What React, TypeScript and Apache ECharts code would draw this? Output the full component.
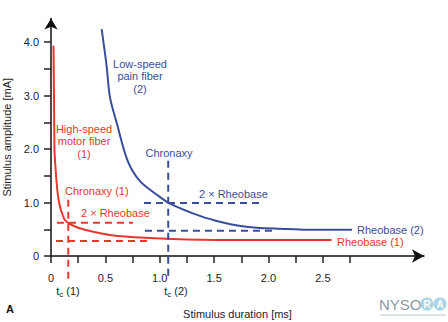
import React, { useEffect, useRef } from 'react';
import * as echarts from 'echarts';

// Strength–duration curves (stimulus duration in ms, amplitude in mA)
const motorDuration = [0.023, 0.028, 0.032, 0.037, 0.045, 0.052, 0.065, 0.083, 0.101, 0.129, 0.19, 0.312, 0.558, 0.864, 1.25, 1.83, 2.58];
const motorAmplitude = [3.93, 2.92, 1.98, 1.79, 1.55, 1.37, 1.12, 0.92, 0.8, 0.67, 0.58, 0.49, 0.39, 0.34, 0.31, 0.3, 0.3];

const painDuration = [0.466, 0.512, 0.542, 0.604, 0.705, 0.818, 0.971, 1.094, 1.369, 1.59, 1.744, 1.893, 2.111, 2.353, 2.767];
const painAmplitude = [4.24, 3.54, 2.97, 2.49, 1.78, 1.4, 1.15, 0.98, 0.75, 0.62, 0.56, 0.53, 0.51, 0.49, 0.49];

// Reference (dashed) lines
const motorTwoRheoSpan = [0.055, 0.754];
const motorTwoRheo = 0.62;
const motorRheoSpan = [0.046, 0.89];
const motorRheo = 0.28;
const motorChronaxy = 0.159;
const motorChronaxySpan = [1.05, -0.47];

const painTwoRheoSpan = [0.855, 1.958];
const painTwoRheo = 0.99;
const painRheoSpan = [0.864, 2.05];
const painRheo = 0.47;
const painChronaxy = 1.078;
const painChronaxySpan = [1.78, -0.43];

// Axis ticks and labels
const xTicks = [0, 0.25, 0.5, 0.75, 1, 1.25, 1.5, 1.75, 2, 2.25, 2.5, 2.75];
const xLabels = [0, 0.5, 1, 1.5, 2, 2.5];
const yTicks = [0, 0.5, 1, 1.5, 2, 2.5, 3, 3.5, 4];
const yLabels = [0, 1, 2, 3, 4];

const RED = '#e5392c';
const BLUE = '#3a4d9b';
const FONT = 'Liberation Sans, Arial, sans-serif';

const zip = (xs: number[], ys: number[]) => xs.map((x, i) => [x, ys[i]]);

export default function App() {
  const ref = useRef<HTMLDivElement>(null);
  useEffect(() => {
    if (!ref.current) return;
    const chart = echarts.init(ref.current, null, { renderer: 'svg' });
    const dashed = (color: string) => ({ color, width: 2, type: [7, 5] as any });
    const txt = (text: string, x: number, y: number, color: string, align = 'center') => ({
      type: 'text',
      x,
      y,
      style: { text, fill: color, font: `11px ${FONT}`, align, verticalAlign: 'middle', lineHeight: 12.5 },
    });
    const tc = (n: string, x: number) => ({
      type: 'text',
      x,
      y: 291,
      style: {
        text: `{t|t}{s|c}{t| (${n})}`,
        align: 'center',
        verticalAlign: 'middle',
        rich: {
          t: { fontSize: 11, fontFamily: FONT, fill: '#222' },
          s: { fontSize: 8, fontFamily: FONT, fill: '#222', padding: [6, 0, 0, 0] },
        },
      },
    });
    chart.setOption({
      animation: false,
      textStyle: { fontFamily: FONT },
      grid: { left: 51, right: 24, top: 18.5, bottom: 66, containLabel: false, outerBoundsMode: 'none' },
      xAxis: {
        type: 'value',
        min: 0,
        max: 3.43,
        name: 'Stimulus duration [ms]',
        nameLocation: 'middle',
        nameGap: 52,
        nameTextStyle: { fontSize: 11, color: '#222', fontFamily: FONT },
        splitLine: { show: false },
        axisLine: { lineStyle: { color: '#111', width: 1.5 }, symbol: ['none', 'arrow'], symbolSize: [10, 12] },
        axisTick: { show: true, length: 7, lineStyle: { color: '#222', width: 1.5 }, customValues: xTicks },
        axisLabel: {
          customValues: xLabels,
          margin: 16,
          fontSize: 11,
          color: '#222',
          formatter: (v: number) => (v === 0 ? '0' : v.toFixed(1)),
        },
      },
      yAxis: {
        type: 'value',
        min: 0,
        max: 4.44,
        name: 'Stimulus amplitude [mA]',
        nameLocation: 'middle',
        nameGap: 39,
        nameTextStyle: { fontSize: 11, color: '#222', fontFamily: FONT },
        splitLine: { show: false },
        axisLine: { show: true, lineStyle: { color: '#111', width: 1.5 }, symbol: ['none', 'arrow'], symbolSize: [10, 11] },
        axisTick: { show: true, length: 7, lineStyle: { color: '#222', width: 1.5 }, customValues: yTicks },
        axisLabel: {
          customValues: yLabels,
          margin: 12,
          fontSize: 11,
          color: '#222',
          formatter: (v: number) => (v === 0 ? '0' : v.toFixed(1)),
        },
      },
      series: [
        {
          type: 'line',
          data: zip(motorDuration, motorAmplitude),
          showSymbol: false,
          smooth: 0.3,
          lineStyle: { color: RED, width: 2 },
        },
        {
          type: 'line',
          data: zip(painDuration, painAmplitude),
          showSymbol: false,
          smooth: 0.3,
          lineStyle: { color: BLUE, width: 2 },
        },
        { type: 'line', clip: false, showSymbol: false, data: motorTwoRheoSpan.map((t) => [t, motorTwoRheo]), lineStyle: dashed(RED) },
        { type: 'line', clip: false, showSymbol: false, data: motorRheoSpan.map((t) => [t, motorRheo]), lineStyle: dashed(RED) },
        { type: 'line', clip: false, showSymbol: false, data: motorChronaxySpan.map((a) => [motorChronaxy, a]), lineStyle: dashed(RED) },
        { type: 'line', clip: false, showSymbol: false, data: painTwoRheoSpan.map((t) => [t, painTwoRheo]), lineStyle: dashed(BLUE) },
        { type: 'line', clip: false, showSymbol: false, data: painRheoSpan.map((t) => [t, painRheo]), lineStyle: dashed(BLUE) },
        { type: 'line', clip: false, showSymbol: false, data: painChronaxySpan.map((a) => [painChronaxy, a]), lineStyle: dashed(BLUE) },
      ],
      graphic: [
        txt('Low-speed\npain fiber\n(2)', 140, 76, BLUE),
        txt('High-speed\nmotor fiber\n(1)', 84, 141, RED),
        txt('Chronaxy', 169, 153, BLUE),
        txt('Chronaxy (1)', 65, 191, RED, 'left'),
        txt('2 × Rheobase', 81, 213, RED, 'left'),
        txt('2 × Rheobase', 199, 194, BLUE, 'left'),
        txt('Rheobase (2)', 357, 230, BLUE, 'left'),
        txt('Rheobase (1)', 337, 242, RED, 'left'),
        tc('1', 68),
        tc('2', 176),
        {
          type: 'text',
          x: 6,
          y: 309,
          style: { text: 'A', font: `bold 11px ${FONT}`, fill: '#111', verticalAlign: 'middle' },
        },
        {
          type: 'text',
          x: 379,
          y: 304,
          style: { text: 'NYSO', font: `15px ${FONT}`, fill: '#8c99a3', verticalAlign: 'middle' },
        },
        { type: 'circle', shape: { cx: 427, cy: 304, r: 6.5 }, style: { fill: '#a9d4e3' } },
        { type: 'circle', shape: { cx: 440, cy: 304, r: 6.5 }, style: { fill: '#a9d4e3' } },
        {
          type: 'text',
          x: 427,
          y: 304,
          style: { text: 'R', font: `bold 10px ${FONT}`, fill: '#ffffff', align: 'center', verticalAlign: 'middle' },
        },
        {
          type: 'text',
          x: 440,
          y: 304,
          style: { text: 'A', font: `bold 10px ${FONT}`, fill: '#ffffff', align: 'center', verticalAlign: 'middle' },
        },
        { type: 'line', shape: { x1: 380, y1: 315, x2: 446, y2: 315 }, style: { stroke: '#b7c6cf', lineWidth: 1 } },
      ],
    });
    return () => chart.dispose();
  }, []);
  return <div ref={ref} style={{ position: 'absolute', left: 0, top: 0, width: 448, height: 322 }} />;
}
